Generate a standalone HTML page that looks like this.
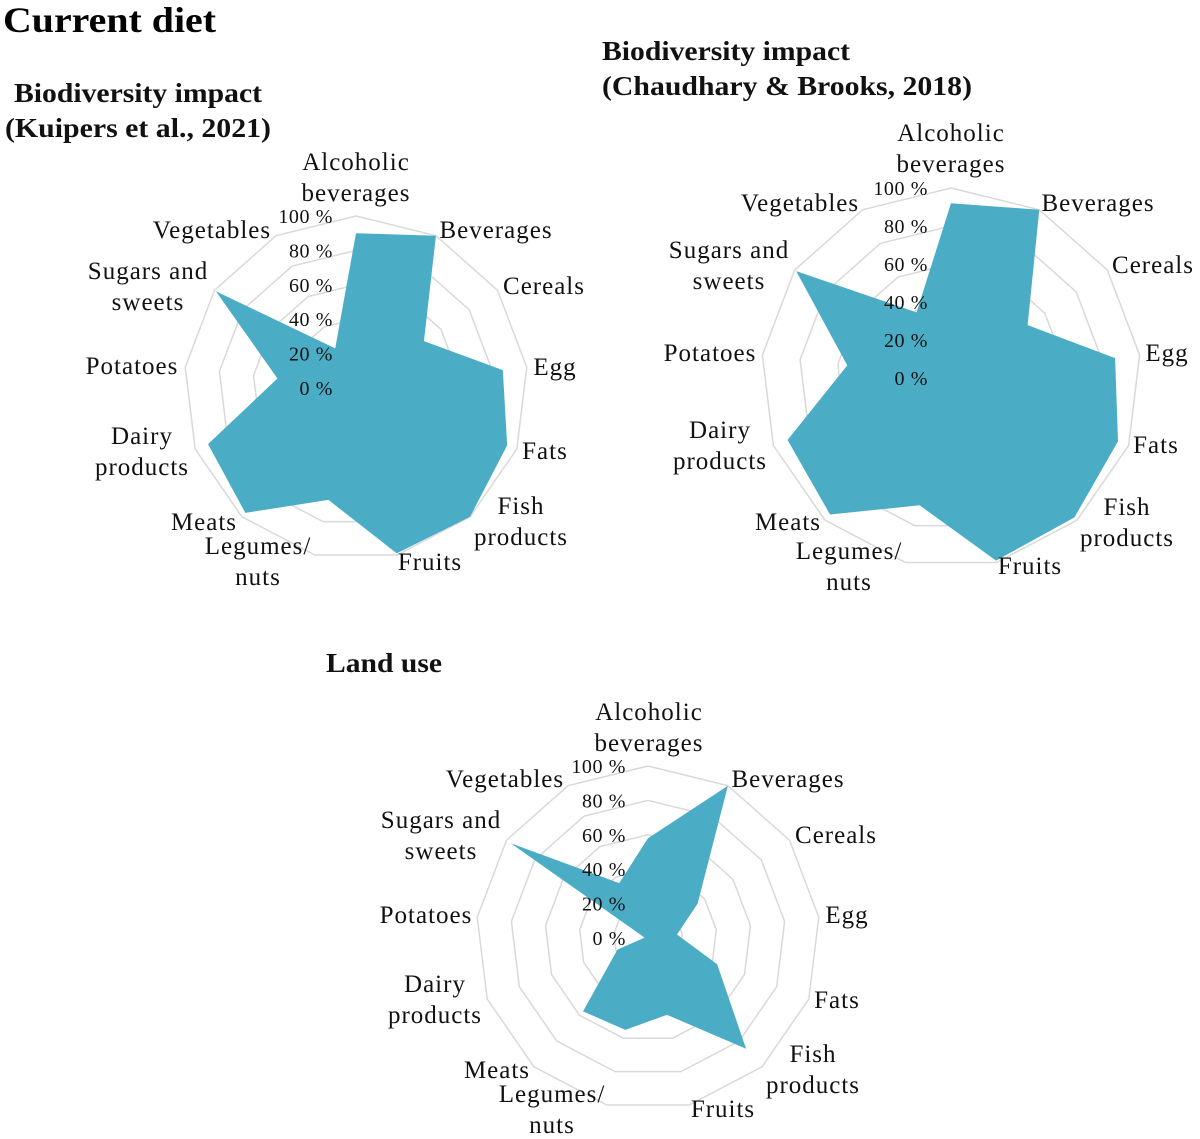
<!DOCTYPE html>
<html><head><meta charset="utf-8">
<style>
html,body{margin:0;padding:0;background:#fff;}
svg{display:block;font-family:"Liberation Serif",serif;}
.cat{font-size:25px;fill:#111;letter-spacing:1px;}
.tick{font-size:20px;fill:#111;letter-spacing:0.6px;}
.ttl{font-size:27px;font-weight:bold;fill:#111;}
</style></head>
<body>
<svg id="root" width="1200" height="1139" viewBox="0 0 1200 1139">
<text x="3" y="32" style="font-size:36px;font-weight:bold" textLength="213" lengthAdjust="spacingAndGlyphs">Current diet</text>
<text class="ttl" x="14" y="102" textLength="248" lengthAdjust="spacingAndGlyphs">Biodiversity impact</text>
<text class="ttl" x="5" y="137" textLength="266" lengthAdjust="spacingAndGlyphs">(Kuipers et al., 2021)</text>
<text class="ttl" x="602" y="60" textLength="248" lengthAdjust="spacingAndGlyphs">Biodiversity impact</text>
<text class="ttl" x="602" y="95" textLength="370" lengthAdjust="spacingAndGlyphs">(Chaudhary &amp; Brooks, 2018)</text>
<text class="ttl" x="326" y="672" textLength="116" lengthAdjust="spacingAndGlyphs">Land use</text>
</svg>
<script>
const categories = ["Alcoholic beverages","Beverages","Cereals","Egg","Fats","Fish products","Fruits","Legumes/ nuts","Meats","Dairy products","Potatoes","Sugars and sweets","Vegetables"];
const kuipersValues = [0.90,1.00,0.48,0.86,0.94,1.00,0.99,0.67,0.97,0.92,0.46,0.99,0.26];
const chaudharyValues = [0.92,1.00,0.49,0.87,0.94,0.98,0.99,0.69,0.96,0.92,0.55,0.99,0.39];
const landUseValues = [0.58,1.00,0.35,0.17,0.43,0.86,0.46,0.55,0.57,0.19,0.02,0.97,0.36];
const tickLabels = ["0 %","20 %","40 %","60 %","80 %","100 %"];
const tickValues = [0,0.2,0.4,0.6,0.8,1.0];

const NS="http://www.w3.org/2000/svg";
const root=document.getElementById('root');
function mk(tag,attrs,parent){const e=document.createElementNS(NS,tag);for(const k in attrs)e.setAttribute(k,attrs[k]);(parent||root).appendChild(e);return e;}

const charts=[
 {id:'kuipers',cx:356,cy:388,r:172,vals:kuipersValues,tickX:333,
  labels:[[356,162,"Alcoholic","beverages"],[496,230,"Beverages"],[544,286,"Cereals"],[555,367,"Egg"],[545,451,"Fats"],[521,506,"Fish","products"],[430,562,"Fruits"],[258,546,"Legumes/","nuts"],[204,522,"Meats"],[142,436,"Dairy","products"],[132,366,"Potatoes"],[148,271,"Sugars and","sweets"],[212,230,"Vegetables"]]},
 {id:'chaudhary',cx:951,cy:378,r:190,vals:chaudharyValues,tickX:928,
  labels:[[951,133,"Alcoholic","beverages"],[1098,203,"Beverages"],[1153,265,"Cereals"],[1167,353,"Egg"],[1156,445,"Fats"],[1127,507,"Fish","products"],[1030,566,"Fruits"],[849,551,"Legumes/","nuts"],[788,522,"Meats"],[720,430,"Dairy","products"],[710,353,"Potatoes"],[729,250,"Sugars and","sweets"],[800,203,"Vegetables"]]},
 {id:'land-use',cx:648,cy:938,r:172,vals:landUseValues,tickX:626,
  labels:[[649,712,"Alcoholic","beverages"],[788,779,"Beverages"],[836,835,"Cereals"],[847,915,"Egg"],[837,1000,"Fats"],[813,1054,"Fish","products"],[723,1109,"Fruits"],[552,1094,"Legumes/","nuts"],[497,1070,"Meats"],[435,984,"Dairy","products"],[426,915,"Potatoes"],[441,820,"Sugars and","sweets"],[505,779,"Vegetables"]]}
];
const N=categories.length;
function pt(c,i,v){const a=2*Math.PI*i/N;return [c.cx+c.r*v*Math.sin(a),c.cy-c.r*v*Math.cos(a)];}

charts.forEach(c=>{
  const g=mk('g',{});
  
  
  tickValues.forEach(t=>{
    if(t===0)return;
    const pts=[];for(let i=0;i<N;i++)pts.push(pt(c,i,t).join(','));
    const ring=mk('polygon',{points:pts.join(' '),fill:'none',stroke:'#d9d9d9','stroke-width':1.5},g);
    
    
  });
  const pts=c.vals.map((v,i)=>pt(c,i,v).join(','));
  const area=mk('polygon',{points:pts.join(' '),fill:'#4bacc6',stroke:'none'},g);
  
  
  tickValues.forEach((t,k)=>{
    const y=c.cy-c.r*t;
    const tx=mk('text',{x:c.tickX,y:y+7,'text-anchor':'end',class:'tick'},g);
    tx.textContent=tickLabels[k];
    
    
  });
  c.labels.forEach((L,i)=>{
    const t1=mk('text',{x:L[0],y:L[1]+8,'text-anchor':'middle',class:'cat'},g);
    t1.textContent=L[2];
    
    
    if(L[3]){
      const t2=mk('text',{x:L[0],y:L[1]+39,'text-anchor':'middle',class:'cat'},g);
      t2.textContent=L[3];
      
      
    }
  });
});
</script>
</body></html>
